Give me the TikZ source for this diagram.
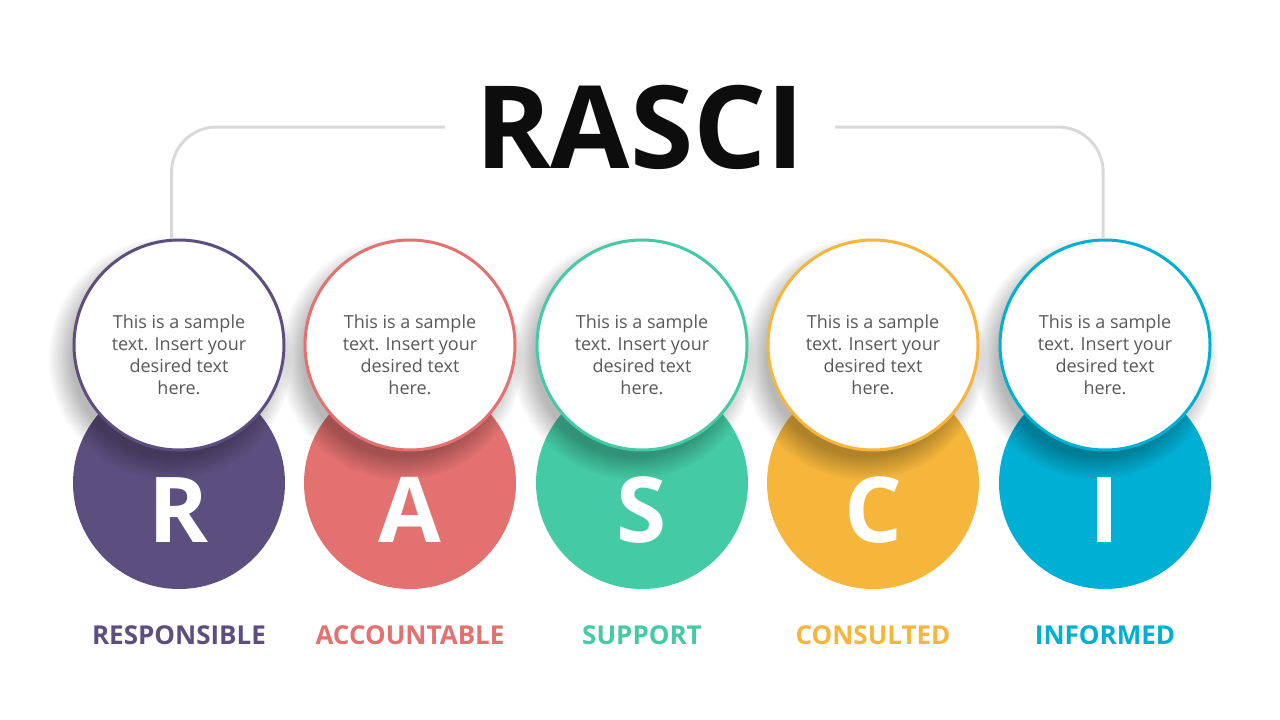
\documentclass[tikz,border=0pt]{standalone}
\usepackage{fontspec}
\setmainfont{Open Sans}
\usetikzlibrary{fadings}
\definecolor{cR}{HTML}{5C4F7F}
\definecolor{cA}{HTML}{E27170}
\definecolor{cS}{HTML}{44CBA5}
\definecolor{cC}{HTML}{F5B63B}
\definecolor{cI}{HTML}{00AFD4}
\definecolor{conn}{HTML}{D9D9D9}
\definecolor{bodytext}{HTML}{595959}
\definecolor{titletext}{HTML}{0D0D0D}
\tikzset{
  basecircle/.style={circle, minimum size=212pt, inner sep=0pt, fill=#1},
  topcircle/.style={circle, minimum size=210pt, inner sep=0pt, fill=white, draw=#1, line width=3pt},
  softshadow/.style={fill=black, opacity=0.28, path fading=circle with fuzzy edge 20 percent},
  letter/.style={anchor=base, text=white, font=\fontsize{91}{91}\selectfont\bfseries},
  bodytxt/.style={align=center, text=bodytext, font=\fontsize{18}{22}\selectfont, inner sep=0pt},
  rolelabel/.style={anchor=base, text=#1, font=\fontsize{26}{26}\selectfont\bfseries},
  connector/.style={draw=conn, line width=3pt, rounded corners=45pt}
}
\begin{document}
\begin{tikzpicture}[x=1pt,y=-1pt]
\useasboundingbox (0,0) rectangle (1280,720);
\fill[white] (0,0) rectangle (1280,720);
% title
\node[anchor=base, text=titletext, font=\fontsize{115}{115}\selectfont\bfseries, inner sep=0pt] (title) at (640,168) {RASCI};
\coordinate (tl) at (445,127);
\coordinate (tr) at (835,127);
% base circles
\foreach \i/\x/\c in {1/179/cR,2/410/cA,3/642/cS,4/873/cC,5/1105/cI}{
  \node[basecircle=\c] (b\i) at (\x,483) {};
}
\foreach \i/\x/\l in {1/179/R,2/410/A,3/642/S,4/873/C,5/1105/I}{
  \node[letter] (l\i) at (\x,542) {\l};
}
% shadows and top circles
\foreach \i/\x/\c in {1/179/cR,2/410/cA,3/642/cS,4/873/cC,5/1105/cI}{
  \fill[softshadow] (\x-9,358) circle (122);
}
\foreach \i/\x/\c in {1/179/cR,2/410/cA,3/642/cS,4/873/cC,5/1105/cI}{
  \node[topcircle=\c] (t\i) at (\x,345) {};
  \node[bodytxt] (x\i) at (\x,355) {This is a sample\\text. Insert your\\desired text\\here.};
}
% connectors
\draw[connector] (t1.94) |- (tl);
\draw[connector] (t5.91) |- (tr);
% labels
\node[rolelabel=cR] (r1) at (179,644) {RESPONSIBLE};
\node[rolelabel=cA] (r2) at (410,644) {ACCOUNTABLE};
\node[rolelabel=cS] (r3) at (642,644) {SUPPORT};
\node[rolelabel=cC] (r4) at (873,644) {CONSULTED};
\node[rolelabel=cI] (r5) at (1105,644) {INFORMED};
\end{tikzpicture}
\end{document}
